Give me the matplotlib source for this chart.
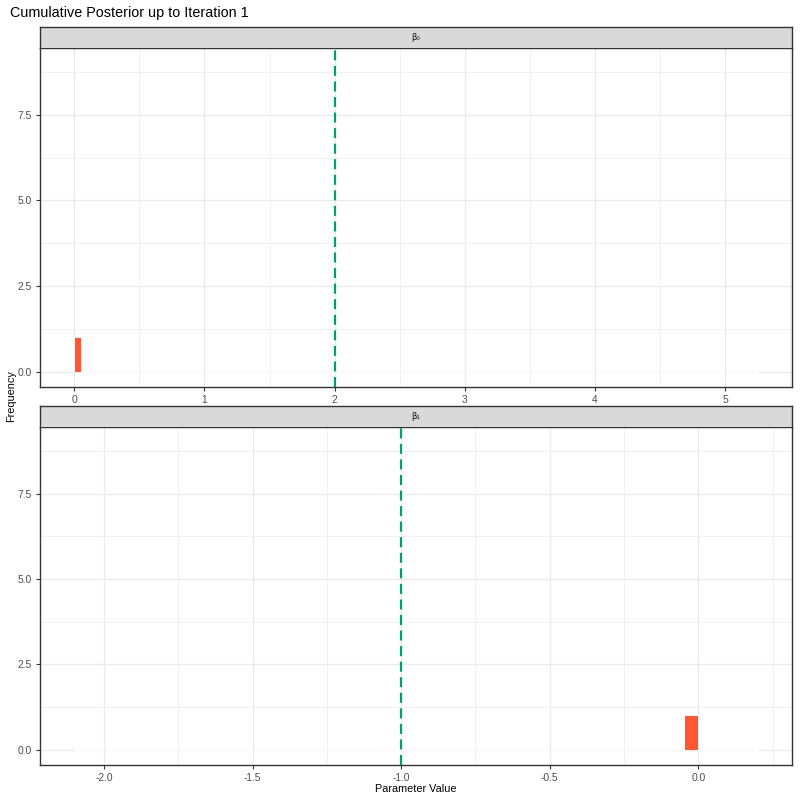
import numpy as np
import matplotlib.pyplot as plt
from matplotlib.ticker import MultipleLocator

plt.rcParams['font.family'] = ['Liberation Sans', 'DejaVu Sans']

# posterior draws so far (iteration 1) and the true parameter values
beta0_draws = [0.03]
beta1_draws = [-0.02]
beta0_true = 2.0
beta1_true = -1.0

# histogram bin ranges (binwidth 0.05)
beta0_range = (0.0, 5.25)
beta1_range = (-2.1, 0.2)
binwidth = 0.05

ymax = 9
bar_col = '#FF5733'
line_col = '#009E73'
grid_col = '#EBEBEB'
dark = '#333333'

fig = plt.figure(figsize=(8, 8), dpi=100)
W, H = 800, 800


def box(l, t, r, b):
    return [l / W, 1 - b / H, (r - l) / W, (b - t) / H]


def panel(rect, strip_rect, label, draws, rng, true_val, major, minor):
    ax = fig.add_axes(box(*rect))
    edges = np.arange(rng[0], rng[1] + binwidth / 2, binwidth)
    counts, edges = np.histogram(draws, bins=edges)
    ax.bar(edges[:-1], counts, width=binwidth, align='edge',
           color=bar_col, edgecolor='white', linewidth=0.6, zorder=2)
    ax.axvline(true_val, color=line_col, lw=1.6, ls=(0, (4.5, 2.5)), zorder=3)

    span = rng[1] - rng[0]
    ax.set_xlim(rng[0] - 0.05 * span, rng[1] + 0.05 * span)
    ax.set_ylim(-0.05 * ymax, ymax * 1.05)
    ax.xaxis.set_major_locator(MultipleLocator(major))
    ax.xaxis.set_minor_locator(MultipleLocator(minor))
    ax.yaxis.set_major_locator(MultipleLocator(2.5))
    ax.yaxis.set_minor_locator(MultipleLocator(1.25))
    ax.grid(which='major', color=grid_col, lw=1.0)
    ax.grid(which='minor', color=grid_col, lw=0.5)
    ax.set_axisbelow(True)
    ax.tick_params(which='minor', length=0)
    ax.tick_params(which='major', length=3, width=0.8, color=dark,
                   labelsize=7.4, labelcolor='#4D4D4D', pad=3)
    for s in ax.spines.values():
        s.set_color(dark)
        s.set_linewidth(1.0)

    st = fig.add_axes(box(*strip_rect))
    st.set_facecolor('#D9D9D9')
    st.set_xticks([])
    st.set_yticks([])
    for s in st.spines.values():
        s.set_color(dark)
        s.set_linewidth(1.0)
    st.spines['bottom'].set_visible(False)
    st.text(0.5, 0.5, label, ha='center', va='center', fontsize=6.2,
            color='#1A1A1A', transform=st.transAxes,
            family=['DejaVu Sans'])
    return ax


ax0 = panel((40, 48, 792, 387), (40, 27, 792, 48), 'β₀',
            beta0_draws, beta0_range, beta0_true, 1, 0.5)
ax0.xaxis.set_major_formatter(plt.FuncFormatter(lambda v, p: f'{v:.0f}'))
ax0.yaxis.set_major_formatter(plt.FuncFormatter(lambda v, p: f'{v:.1f}'))

ax1 = panel((40, 427, 792, 765), (40, 406, 792, 427), 'β₁',
            beta1_draws, beta1_range, beta1_true, 0.5, 0.25)
ax1.xaxis.set_major_formatter(plt.FuncFormatter(lambda v, p: f'{v:.1f}'))
ax1.yaxis.set_major_formatter(plt.FuncFormatter(lambda v, p: f'{v:.1f}'))

fig.text(10 / W, 1 - 13 / H, 'Cumulative Posterior up to Iteration 1',
         fontsize=10.4, ha='left', va='center', color='black')
fig.text(416 / W, 1 - 789 / H, 'Parameter Value', fontsize=7.8,
         ha='center', va='center')
fig.text(11 / W, 1 - 396 / H, 'Frequency', fontsize=7.8, rotation=90,
         ha='center', va='center')

fig.savefig('out.png', dpi=100, facecolor='white')
